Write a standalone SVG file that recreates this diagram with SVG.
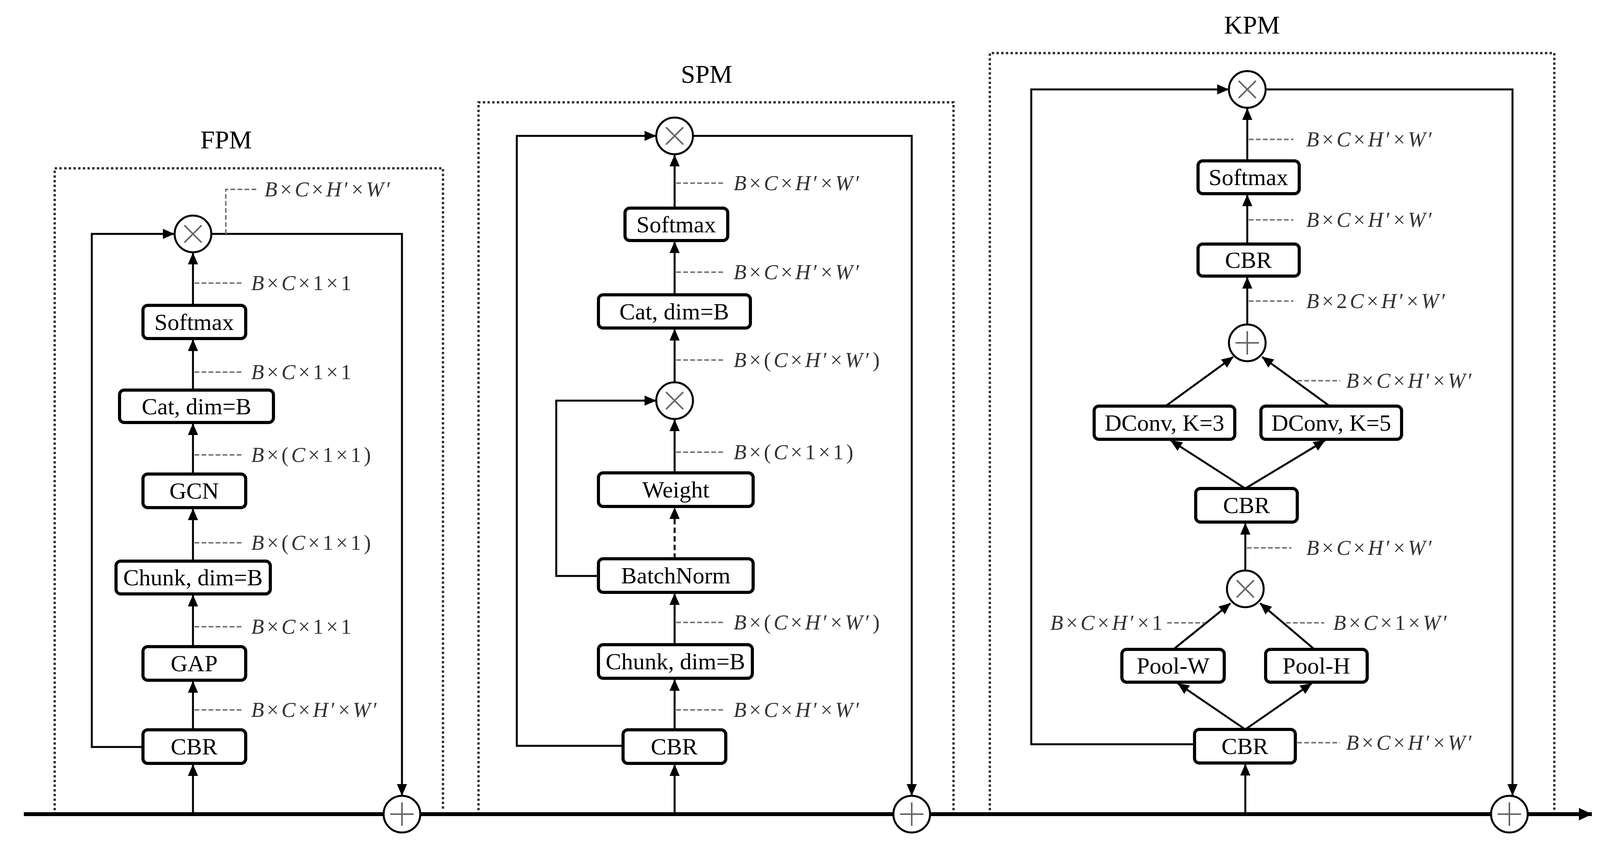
<svg xmlns="http://www.w3.org/2000/svg" width="4130" height="2164" viewBox="0 0 4130 2164">
<style>
.bx rect{fill:#fff;stroke:#000;stroke-width:8}
.bx text{font-family:"Liberation Serif",serif;font-size:60px;text-anchor:middle;fill:#000}
.ttl{font-family:"Liberation Serif",serif;font-size:66px;text-anchor:middle}
.frame{fill:none;stroke:#333;stroke-width:6;stroke-dasharray:6 6}
.ln{fill:none;stroke:#000;stroke-width:5}
.arr{marker-end:url(#ah)}
.dl{fill:none;stroke:#777;stroke-width:4;stroke-dasharray:12 6}
.lb{font-family:"Liberation Serif",serif;font-size:54px;fill:#333;font-style:italic;letter-spacing:7px}
.lb tspan.u{font-style:normal}
.op circle{fill:#fff;stroke:#000;stroke-width:5}
.op path{stroke:#666;stroke-width:4;fill:none}
</style>
<defs>
<marker id="ah" markerUnits="userSpaceOnUse" markerWidth="30" markerHeight="26" refX="29" refY="13" orient="auto"><path d="M0,0 L30,13 L0,26 Z" fill="#000"/></marker>
<marker id="ah2" markerUnits="userSpaceOnUse" markerWidth="34" markerHeight="32" refX="33" refY="16" orient="auto"><path d="M0,0 L34,16 L0,32 Z" fill="#000"/></marker>
</defs>

<text class="ttl" x="579" y="380">FPM</text>
<text class="ttl" x="1809" y="212">SPM</text>
<text class="ttl" x="3205" y="86">KPM</text>
<path class="frame" d="M140,2075 V431 H1134 V2075"/>
<path class="frame" d="M1225,2075 V262 H2441 V2075"/>
<path class="frame" d="M2534,2075 V136 H3979 V2075"/>

<g id="connectors">
<line x1="61" y1="2085" x2="4075" y2="2085" stroke="#000" stroke-width="10" marker-end="url(#ah2)"/>
<path class="ln arr" d="M494,2080 V1958"/>
<path class="ln arr" d="M494,1869 V1745"/>
<path class="ln arr" d="M494,1656 V1524"/>
<path class="ln arr" d="M494,1437 V1303"/>
<path class="ln arr" d="M494,1214 V1085"/>
<path class="ln arr" d="M494,999 V870"/>
<path class="ln arr" d="M494,782 V648"/>
<path class="ln arr" d="M366,1913 H235 V599 H446"/>
<path class="ln arr" d="M541,599 H1029 V2037"/>
<path class="ln arr" d="M1727,2080 V1958"/>
<path class="ln arr" d="M1727,1869 V1740"/>
<path class="ln arr" d="M1727,1651 V1520"/>
<path class="ln arr" d="M1727,1431 V1300" stroke-dasharray="14 8"/>
<path class="ln arr" d="M1727,1211 V1075"/>
<path class="ln arr" d="M1727,979 V843"/>
<path class="ln arr" d="M1727,755 V619"/>
<path class="ln arr" d="M1727,533 V397"/>
<path class="ln arr" d="M1532,1475 H1424 V1026 H1679"/>
<path class="ln arr" d="M1595,1910 H1323 V348 H1679"/>
<path class="ln arr" d="M1774,348 H2334 V2037"/>
<path class="ln arr" d="M3188,2080 V1957"/>
<path class="ln arr" d="M3188,1868 L3015,1750"/>
<path class="ln arr" d="M3188,1868 L3358,1750"/>
<path class="ln arr" d="M3004,1663 L3150,1545"/>
<path class="ln arr" d="M3365,1663 L3226,1545"/>
<path class="ln arr" d="M3188,1461 V1340"/>
<path class="ln arr" d="M3188,1251 L2997,1128"/>
<path class="ln arr" d="M3188,1251 L3392,1128"/>
<path class="ln arr" d="M2984,1040 L3157,914"/>
<path class="ln arr" d="M3404,1040 L3231,914"/>
<path class="ln arr" d="M3193,831 V710"/>
<path class="ln arr" d="M3193,625 V499"/>
<path class="ln arr" d="M3193,412 V278"/>
<path class="ln arr" d="M3058,1906 H2640 V229 H3145"/>
<path class="ln arr" d="M3241,229 H3872 V2037"/>
</g>

<g id="dims">
<path class="dl" d="M578,599 V485 H660"/>
<text class="lb" x="677" y="503">B<tspan class="u">×</tspan>C<tspan class="u">×</tspan>H<tspan class="u">′×</tspan>W<tspan class="u">′</tspan></text>
<path class="dl" d="M498,725 H620 M498,953 H620 M498,1165 H620 M498,1390 H620 M498,1605 H620 M498,1818 H620"/>
<text class="lb" x="643" y="743">B<tspan class="u">×</tspan>C<tspan class="u">×1×1</tspan></text>
<text class="lb" x="643" y="971">B<tspan class="u">×</tspan>C<tspan class="u">×1×1</tspan></text>
<text class="lb" x="643" y="1183">B<tspan class="u">×(</tspan>C<tspan class="u">×1×1)</tspan></text>
<text class="lb" x="643" y="1408">B<tspan class="u">×(</tspan>C<tspan class="u">×1×1)</tspan></text>
<text class="lb" x="643" y="1623">B<tspan class="u">×</tspan>C<tspan class="u">×1×1</tspan></text>
<text class="lb" x="643" y="1836">B<tspan class="u">×</tspan>C<tspan class="u">×</tspan>H<tspan class="u">′×</tspan>W<tspan class="u">′</tspan></text>

<path class="dl" d="M1731,469 H1855 M1731,697 H1855 M1731,922 H1855 M1731,1158 H1855 M1731,1594 H1855 M1731,1818 H1855"/>
<text class="lb" x="1878" y="487">B<tspan class="u">×</tspan>C<tspan class="u">×</tspan>H<tspan class="u">′×</tspan>W<tspan class="u">′</tspan></text>
<text class="lb" x="1878" y="715">B<tspan class="u">×</tspan>C<tspan class="u">×</tspan>H<tspan class="u">′×</tspan>W<tspan class="u">′</tspan></text>
<text class="lb" x="1878" y="940">B<tspan class="u">×(</tspan>C<tspan class="u">×</tspan>H<tspan class="u">′×</tspan>W<tspan class="u">′)</tspan></text>
<text class="lb" x="1878" y="1176">B<tspan class="u">×(</tspan>C<tspan class="u">×1×1)</tspan></text>
<text class="lb" x="1878" y="1612">B<tspan class="u">×(</tspan>C<tspan class="u">×</tspan>H<tspan class="u">′×</tspan>W<tspan class="u">′)</tspan></text>
<text class="lb" x="1878" y="1836">B<tspan class="u">×</tspan>C<tspan class="u">×</tspan>H<tspan class="u">′×</tspan>W<tspan class="u">′</tspan></text>

<path class="dl" d="M3197,357 H3311 M3197,563 H3311 M3197,771 H3311 M3321,975 H3431 M3192,1403 H3306 M2988,1595 H3085 M3292,1595 H3390 M3321,1902 H3430"/>
<text class="lb" x="3344" y="375">B<tspan class="u">×</tspan>C<tspan class="u">×</tspan>H<tspan class="u">′×</tspan>W<tspan class="u">′</tspan></text>
<text class="lb" x="3344" y="581">B<tspan class="u">×</tspan>C<tspan class="u">×</tspan>H<tspan class="u">′×</tspan>W<tspan class="u">′</tspan></text>
<text class="lb" x="3344" y="789">B<tspan class="u">×2</tspan>C<tspan class="u">×</tspan>H<tspan class="u">′×</tspan>W<tspan class="u">′</tspan></text>
<text class="lb" x="3446" y="993">B<tspan class="u">×</tspan>C<tspan class="u">×</tspan>H<tspan class="u">′×</tspan>W<tspan class="u">′</tspan></text>
<text class="lb" x="3344" y="1421">B<tspan class="u">×</tspan>C<tspan class="u">×</tspan>H<tspan class="u">′×</tspan>W<tspan class="u">′</tspan></text>
<text class="lb" x="2983" y="1613" text-anchor="end">B<tspan class="u">×</tspan>C<tspan class="u">×</tspan>H<tspan class="u">′×1</tspan></text>
<text class="lb" x="3413" y="1613">B<tspan class="u">×</tspan>C<tspan class="u">×1×</tspan>W<tspan class="u">′</tspan></text>
<text class="lb" x="3446" y="1920">B<tspan class="u">×</tspan>C<tspan class="u">×</tspan>H<tspan class="u">′×</tspan>W<tspan class="u">′</tspan></text>
</g>

<g id="fpm_softmax" class="bx"><rect x="366" y="782" width="263" height="85" rx="12"/><text x="497" y="845">Softmax</text></g>
<g id="fpm_cat" class="bx"><rect x="306" y="999" width="394" height="83" rx="12"/><text x="503" y="1061">Cat, dim=B</text></g>
<g id="fpm_gcn" class="bx"><rect x="366" y="1214" width="263" height="86" rx="12"/><text x="497" y="1277">GCN</text></g>
<g id="fpm_chunk" class="bx"><rect x="297" y="1437" width="395" height="84" rx="12"/><text x="494" y="1499">Chunk, dim=B</text></g>
<g id="fpm_gap" class="bx"><rect x="366" y="1656" width="263" height="86" rx="12"/><text x="497" y="1719">GAP</text></g>
<g id="fpm_cbr" class="bx"><rect x="366" y="1869" width="263" height="86" rx="12"/><text x="497" y="1932">CBR</text></g>
<g id="fpm_mul" class="op"><circle cx="494" cy="599" r="47"/><path d="M472,577 L516,621 M516,577 L472,621"/></g>
<g id="fpm_add" class="op"><circle cx="1029" cy="2085" r="47"/><path d="M999,2085 H1059 M1029,2055 V2115"/></g>

<g id="spm_softmax" class="bx"><rect x="1600" y="533" width="263" height="83" rx="12"/><text x="1731" y="595">Softmax</text></g>
<g id="spm_cat" class="bx"><rect x="1532" y="755" width="389" height="85" rx="12"/><text x="1726" y="818">Cat, dim=B</text></g>
<g id="spm_weight" class="bx"><rect x="1532" y="1211" width="396" height="86" rx="12"/><text x="1730" y="1274">Weight</text></g>
<g id="spm_bn" class="bx"><rect x="1532" y="1431" width="396" height="86" rx="12"/><text x="1730" y="1494">BatchNorm</text></g>
<g id="spm_chunk" class="bx"><rect x="1532" y="1651" width="394" height="86" rx="12"/><text x="1729" y="1714">Chunk, dim=B</text></g>
<g id="spm_cbr" class="bx"><rect x="1595" y="1869" width="263" height="86" rx="12"/><text x="1726" y="1932">CBR</text></g>
<g id="spm_mul1" class="op"><circle cx="1727" cy="348" r="47"/><path d="M1705,326 L1749,370 M1749,326 L1705,370"/></g>
<g id="spm_mul2" class="op"><circle cx="1727" cy="1026" r="47"/><path d="M1705,1004 L1749,1048 M1749,1004 L1705,1048"/></g>
<g id="spm_add" class="op"><circle cx="2334" cy="2085" r="47"/><path d="M2304,2085 H2364 M2334,2055 V2115"/></g>

<g id="kpm_softmax" class="bx"><rect x="3067" y="412" width="259" height="84" rx="12"/><text x="3196" y="474">Softmax</text></g>
<g id="kpm_cbr2" class="bx"><rect x="3067" y="625" width="259" height="82" rx="12"/><text x="3196" y="686">CBR</text></g>
<g id="kpm_dconv3" class="bx"><rect x="2801" y="1040" width="360" height="85" rx="12"/><text x="2981" y="1103">DConv, K=3</text></g>
<g id="kpm_dconv5" class="bx"><rect x="3228" y="1040" width="360" height="85" rx="12"/><text x="3408" y="1103">DConv, K=5</text></g>
<g id="kpm_cbr1" class="bx"><rect x="3061" y="1251" width="260" height="86" rx="12"/><text x="3191" y="1314">CBR</text></g>
<g id="kpm_poolw" class="bx"><rect x="2872" y="1663" width="262" height="84" rx="12"/><text x="3003" y="1725">Pool-W</text></g>
<g id="kpm_poolh" class="bx"><rect x="3240" y="1663" width="260" height="84" rx="12"/><text x="3370" y="1725">Pool-H</text></g>
<g id="kpm_cbr0" class="bx"><rect x="3058" y="1868" width="258" height="86" rx="12"/><text x="3187" y="1931">CBR</text></g>
<g id="kpm_mul1" class="op"><circle cx="3193" cy="229" r="47"/><path d="M3171,207 L3215,251 M3215,207 L3171,251"/></g>
<g id="kpm_add1" class="op"><circle cx="3193" cy="878" r="47"/><path d="M3163,878 H3223 M3193,848 V908"/></g>
<g id="kpm_mul2" class="op"><circle cx="3188" cy="1508" r="47"/><path d="M3166,1486 L3210,1530 M3210,1486 L3166,1530"/></g>
<g id="kpm_add2" class="op"><circle cx="3864" cy="2085" r="47"/><path d="M3834,2085 H3894 M3864,2055 V2115"/></g>
</svg>
